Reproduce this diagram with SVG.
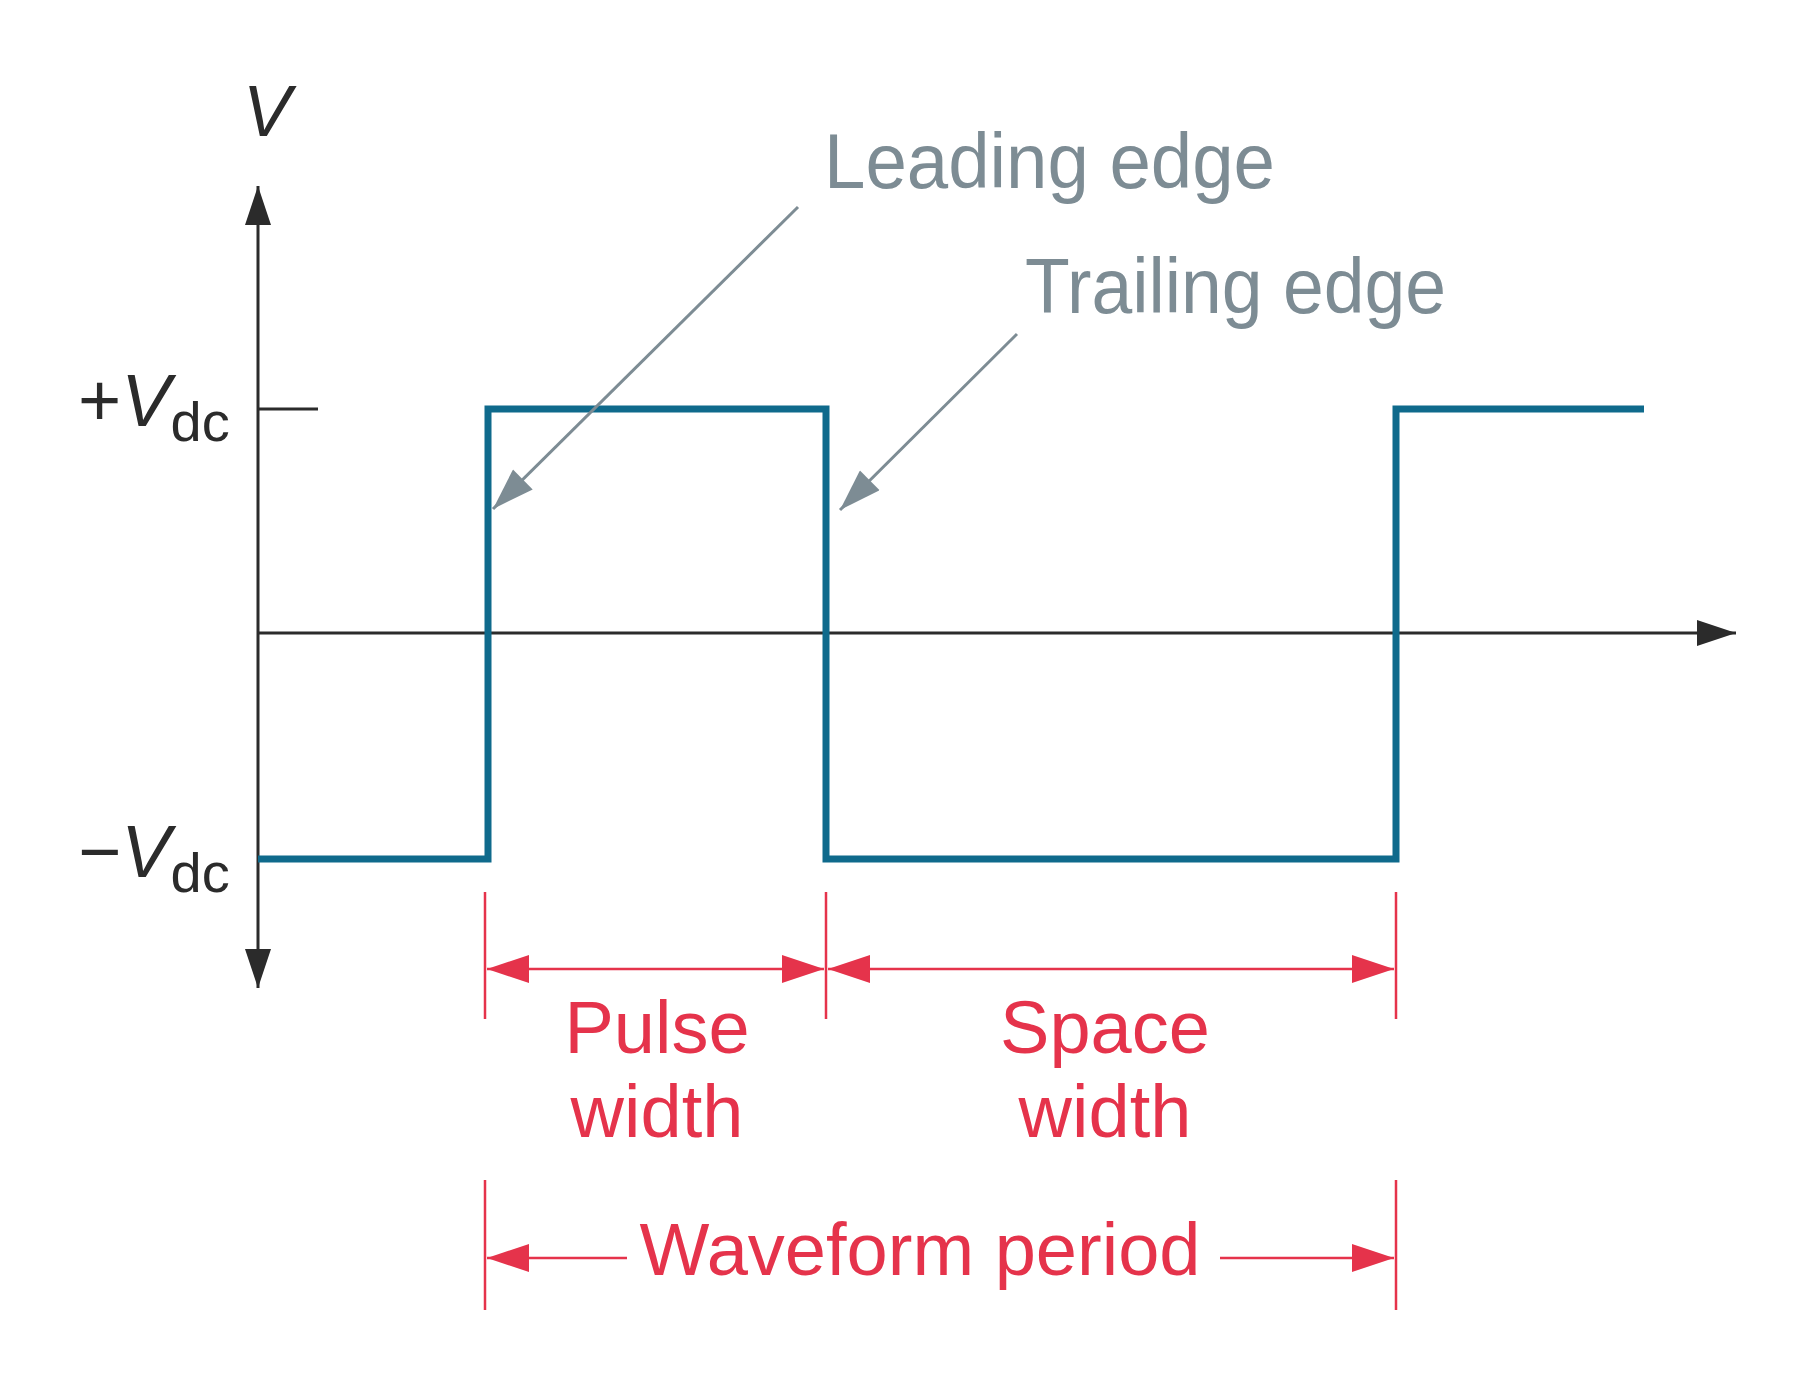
<svg xmlns="http://www.w3.org/2000/svg" width="1796" height="1375" viewBox="0 0 1796 1375">
<style>
.ax{stroke:#2b2b2b;stroke-width:3;fill:none}
.wave{stroke:#0f6a8c;stroke-width:7;fill:none}
.red{stroke:#e5334b;stroke-width:2.5;fill:none}
.grey{stroke:#7d8c94;stroke-width:3;fill:none}
.tr{font-family:"Liberation Sans",Arial,sans-serif;font-size:74px;fill:#e5334b;text-anchor:middle}
.tg{font-family:"Liberation Sans",Arial,sans-serif;font-size:78px;fill:#7d8c94}
.tk{font-family:"Liberation Sans",Arial,sans-serif;fill:#2b2b2b}
</style>
<defs>
<marker id="ar" viewBox="0 0 12 8" refX="12" refY="4" markerWidth="48" markerHeight="28" orient="auto-start-reverse" markerUnits="userSpaceOnUse"><path d="M0,0L12,4L0,8z" fill="#e5334b"/></marker>
<marker id="ag" viewBox="0 0 12 8" refX="12" refY="4" markerWidth="48" markerHeight="28" orient="auto" markerUnits="userSpaceOnUse"><path d="M0,0L12,4L0,8z" fill="#7d8c94"/></marker>
<marker id="aa" viewBox="0 0 12 8" refX="12" refY="4" markerWidth="48" markerHeight="26" orient="auto-start-reverse" markerUnits="userSpaceOnUse"><path d="M0,0L12,4L0,8z" fill="#2b2b2b"/></marker>
</defs>
<g id="axes">
<line class="ax" x1="258" y1="186" x2="258" y2="988" marker-start="url(#aa)" marker-end="url(#aa)"/>
<line class="ax" x1="258" y1="633" x2="1736" y2="633" marker-end="url(#aa)"/>
<line class="ax" x1="258" y1="409" x2="318" y2="409"/>
</g>
<g id="waveform">
<polyline class="wave" points="258,859 488,859 488,409 826,409 826,859 1396,859 1396,409 1644,409"/>
</g>
<g id="labels">
<text class="tk" x="243" y="136" font-size="72" font-style="italic">V</text>
<text class="tk" x="78" y="426" font-size="74">+<tspan font-style="italic">V</tspan><tspan font-size="56" dy="15">dc</tspan></text>
<text class="tk" x="78" y="877" font-size="74">−<tspan font-style="italic">V</tspan><tspan font-size="56" dy="15">dc</tspan></text>
<text class="tg" x="824" y="188" textLength="451" lengthAdjust="spacingAndGlyphs">Leading edge</text>
<text class="tg" x="1025" y="313" textLength="421" lengthAdjust="spacingAndGlyphs">Trailing edge</text>
<text class="tr" x="657" y="1053">Pulse</text>
<text class="tr" x="657" y="1137">width</text>
<text class="tr" x="1105" y="1053">Space</text>
<text class="tr" x="1105" y="1137">width</text>
<text class="tr" x="920" y="1275" textLength="561" lengthAdjust="spacingAndGlyphs">Waveform period</text>
</g>
<g id="connectors">
<line class="grey" x1="798" y1="207" x2="493" y2="509" marker-end="url(#ag)"/>
<line class="grey" x1="1017" y1="334" x2="840" y2="510" marker-end="url(#ag)"/>
<line class="red" x1="485" y1="892" x2="485" y2="1019"/>
<line class="red" x1="826" y1="892" x2="826" y2="1019"/>
<line class="red" x1="1396" y1="892" x2="1396" y2="1019"/>
<line class="red" x1="487" y1="969" x2="824" y2="969" marker-start="url(#ar)" marker-end="url(#ar)"/>
<line class="red" x1="828" y1="969" x2="1394" y2="969" marker-start="url(#ar)" marker-end="url(#ar)"/>
<line class="red" x1="485" y1="1180" x2="485" y2="1310"/>
<line class="red" x1="1396" y1="1180" x2="1396" y2="1310"/>
<line class="red" x1="487" y1="1258" x2="627" y2="1258" marker-start="url(#ar)"/>
<line class="red" x1="1220" y1="1258" x2="1394" y2="1258" marker-end="url(#ar)"/>
</g>
</svg>
